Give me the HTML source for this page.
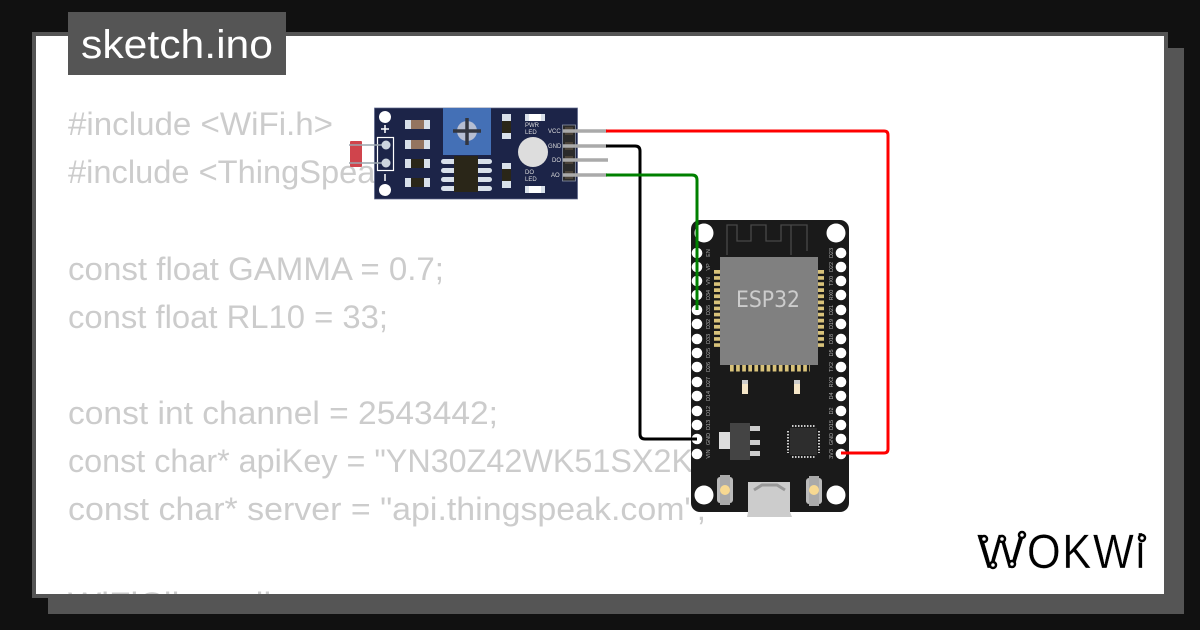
<!DOCTYPE html>
<html><head><meta charset="utf-8"><style>
html,body{margin:0;padding:0;background:#111;width:1200px;height:630px;overflow:hidden}
svg{display:block}
.c{font-family:"Liberation Sans",sans-serif;font-size:32px;fill:#ccc}
.p{font-family:"Liberation Sans",sans-serif;font-size:5.5px;fill:#aaa}
.s{font-family:"Liberation Sans",sans-serif;font-size:6px;fill:#ddd}
.w{font-family:"Liberation Sans",sans-serif;font-size:48px;fill:#000;stroke:#fff;stroke-width:.3px}
</style></head><body>
<svg width="1200" height="630" viewBox="0 0 1200 630" xmlns="http://www.w3.org/2000/svg">
<defs><clipPath id="panel"><rect x="36" y="36" width="1128" height="558"/></clipPath></defs>
<rect width="1200" height="630" fill="#111"/>
<rect x="48" y="48" width="1136" height="566" fill="#555"/>
<rect x="32" y="32" width="1136" height="566" fill="#555"/>
<rect x="36" y="36" width="1128" height="558" fill="#fff"/>
<g clip-path="url(#panel)" class="c">
<text x="68" y="135" textLength="265" lengthAdjust="spacingAndGlyphs">#include &lt;WiFi.h&gt;</text>
<text x="68" y="183" textLength="370" lengthAdjust="spacingAndGlyphs">#include &lt;ThingSpeak.h&gt;</text>
<text x="68" y="280" textLength="376" lengthAdjust="spacingAndGlyphs">const float GAMMA = 0.7;</text>
<text x="68" y="328" textLength="320" lengthAdjust="spacingAndGlyphs">const float RL10 = 33;</text>
<text x="68" y="424" textLength="430" lengthAdjust="spacingAndGlyphs">const int channel = 2543442;</text>
<text x="68" y="472" textLength="625" lengthAdjust="spacingAndGlyphs">const char* apiKey = "YN30Z42WK51SX2K</text>
<text x="68" y="520" textLength="638" lengthAdjust="spacingAndGlyphs">const char* server = "api.thingspeak.com";</text>
<text x="68" y="615" textLength="262" lengthAdjust="spacingAndGlyphs">WiFiClient client;</text>
</g>
<rect x="68" y="12" width="218" height="63" fill="#555"/>
<text x="81" y="58" font-family="Liberation Sans, sans-serif" font-size="40" fill="#fff" textLength="192" lengthAdjust="spacingAndGlyphs">sketch.ino</text>

<!-- sensor -->
<rect x="374.5" y="108" width="203" height="91" fill="#1c2448" stroke="#5a6488" stroke-width="0.7"/>
<rect x="443" y="108" width="48" height="47" fill="#4470b6"/>
<circle cx="467" cy="131" r="10" fill="#b6bed2"/>
<path d="M467 118V145M453 131H481" stroke="#33363f" stroke-width="3.5"/>
<circle cx="385" cy="117" r="6" fill="#fff"/>
<circle cx="385" cy="190" r="6" fill="#fff"/>
<path d="M381 129H389M385 125V133M385 174V181" stroke="#fff" stroke-width="1.5"/>
<rect x="377.5" y="137.5" width="16" height="33" fill="none" stroke="#fff" stroke-width="1.2"/>
<rect x="350" y="141" width="12" height="26" rx="1" fill="#d0444c"/>
<path d="M349 145H386M349 163H386" stroke="#9aa5ad" stroke-width="1.5"/>
<circle cx="386" cy="145" r="4.5" fill="#cdd5de"/>
<circle cx="386" cy="163" r="4.5" fill="#cdd5de"/>
<g>
<rect x="405" y="120" width="25" height="9" fill="#d8e0ea"/><rect x="411" y="120" width="13" height="9" fill="#947460"/>
<rect x="405" y="140" width="25" height="9" fill="#d8e0ea"/><rect x="411" y="140" width="13" height="9" fill="#947460"/>
<rect x="405" y="159" width="25" height="9" fill="#d8e0ea"/><rect x="411" y="159" width="13" height="9" fill="#2a2618"/>
<rect x="405" y="178" width="25" height="9" fill="#d8e0ea"/><rect x="411" y="178" width="13" height="9" fill="#2a2618"/>
</g>
<g fill="#d8e0ea">
<rect x="441" y="159" width="51" height="5" rx="2.5"/>
<rect x="441" y="168" width="51" height="5" rx="2.5"/>
<rect x="441" y="177" width="51" height="5" rx="2.5"/>
<rect x="441" y="186" width="51" height="5" rx="2.5"/>
</g>
<rect x="454" y="156" width="24" height="36" fill="#2a2618"/>
<rect x="502" y="114" width="9" height="25" fill="#d8e0ea"/><rect x="502" y="121" width="9" height="12" fill="#2a2618"/>
<rect x="502" y="163" width="9" height="25" fill="#d8e0ea"/><rect x="502" y="169" width="9" height="12" fill="#2a2618"/>
<rect x="525" y="114" width="20" height="7" fill="#d8e0ea"/><rect x="529" y="114" width="12" height="7" fill="#fff"/>
<rect x="525" y="186" width="20" height="7" fill="#d8e0ea"/><rect x="529" y="186" width="12" height="7" fill="#fff"/>
<circle cx="533" cy="152" r="15" fill="#ddd"/>
<text class="s" x="525" y="127">PWR</text><text class="s" x="525" y="134">LED</text>
<text class="s" x="525" y="174">DO</text><text class="s" x="525" y="181">LED</text>
<text class="s" x="548" y="133">VCC</text><text class="s" x="548" y="148">GND</text><text class="s" x="552" y="162">DO</text><text class="s" x="551" y="177">AO</text>
<rect x="562.5" y="125" width="13" height="56" fill="#2a2a2a" stroke="#8a93a8" stroke-width="0.8"/>
<g fill="#4a4238"><rect x="565" y="127" width="8" height="8"/><rect x="565" y="142" width="8" height="8"/><rect x="565" y="156" width="8" height="8"/><rect x="565" y="171" width="8" height="8"/></g>

<!-- esp32 -->
<rect x="691" y="220" width="158" height="292" rx="9" fill="#1a1a1a"/>
<path d="M727 255V225H737V241H751V225H766V241H781V225H807V251M791 225V255" fill="none" stroke="#484848" stroke-width="1.3"/>
<g fill="#fff">
<circle cx="704" cy="233" r="9.500"/><circle cx="836" cy="233" r="9.500"/><circle cx="704" cy="495" r="9.500"/><circle cx="836" cy="495" r="9.500"/>
<circle cx="697" cy="253" r="5.300"/><circle cx="697" cy="267" r="5.300"/><circle cx="697" cy="281" r="5.300"/><circle cx="697" cy="295" r="5.300"/><circle cx="697" cy="310" r="5.300"/><circle cx="697" cy="324" r="5.300"/><circle cx="697" cy="339" r="5.300"/><circle cx="697" cy="353" r="5.300"/><circle cx="697" cy="367" r="5.300"/><circle cx="697" cy="382" r="5.300"/><circle cx="697" cy="396" r="5.300"/><circle cx="697" cy="411" r="5.300"/><circle cx="697" cy="425" r="5.300"/><circle cx="697" cy="439" r="5.300"/><circle cx="697" cy="454" r="5.300"/>
<circle cx="841" cy="253" r="5.300"/><circle cx="841" cy="267" r="5.300"/><circle cx="841" cy="281" r="5.300"/><circle cx="841" cy="295" r="5.300"/><circle cx="841" cy="310" r="5.300"/><circle cx="841" cy="324" r="5.300"/><circle cx="841" cy="339" r="5.300"/><circle cx="841" cy="353" r="5.300"/><circle cx="841" cy="367" r="5.300"/><circle cx="841" cy="382" r="5.300"/><circle cx="841" cy="396" r="5.300"/><circle cx="841" cy="411" r="5.300"/><circle cx="841" cy="425" r="5.300"/><circle cx="841" cy="439" r="5.300"/><circle cx="841" cy="454" r="5.300"/>
</g>
<path d="M717 270V349M821 270V349" stroke="#d8c27a" stroke-width="6" stroke-dasharray="3.700 2.400"/>
<path d="M730 368H810" stroke="#d8c27a" stroke-width="7" stroke-dasharray="3.700 2.400"/>
<rect x="720" y="257" width="98" height="108" fill="#808080"/>
<text x="736" y="307" font-family="DejaVu Sans, sans-serif" font-size="22" fill="#ccc" textLength="64" lengthAdjust="spacingAndGlyphs">ESP32</text>
<g class="p" text-anchor="middle">
<text transform="translate(710,253) rotate(-90)">EN</text><text transform="translate(710,267) rotate(-90)">VP</text><text transform="translate(710,281) rotate(-90)">VN</text><text transform="translate(710,295) rotate(-90)">D34</text><text transform="translate(710,310) rotate(-90)">D35</text><text transform="translate(710,324) rotate(-90)">D32</text><text transform="translate(710,339) rotate(-90)">D33</text><text transform="translate(710,353) rotate(-90)">D25</text><text transform="translate(710,367) rotate(-90)">D26</text><text transform="translate(710,382) rotate(-90)">D27</text><text transform="translate(710,396) rotate(-90)">D14</text><text transform="translate(710,411) rotate(-90)">D12</text><text transform="translate(710,425) rotate(-90)">D13</text><text transform="translate(710,439) rotate(-90)">GND</text><text transform="translate(710,454) rotate(-90)">VIN</text>
<text transform="translate(833,253) rotate(-90)">D23</text><text transform="translate(833,267) rotate(-90)">D22</text><text transform="translate(833,281) rotate(-90)">TX0</text><text transform="translate(833,295) rotate(-90)">RX0</text><text transform="translate(833,310) rotate(-90)">D21</text><text transform="translate(833,324) rotate(-90)">D19</text><text transform="translate(833,339) rotate(-90)">D18</text><text transform="translate(833,353) rotate(-90)">D5</text><text transform="translate(833,367) rotate(-90)">TX2</text><text transform="translate(833,382) rotate(-90)">RX2</text><text transform="translate(833,396) rotate(-90)">D4</text><text transform="translate(833,411) rotate(-90)">D2</text><text transform="translate(833,425) rotate(-90)">D15</text><text transform="translate(833,439) rotate(-90)">GND</text><text transform="translate(833,454) rotate(-90)">3V3</text>
</g>
<rect x="742" y="380" width="6" height="14" fill="#f5e6c8"/><rect x="742" y="380" width="6" height="4" fill="#ccc"/>
<rect x="794" y="380" width="6" height="14" fill="#f5e6c8"/><rect x="794" y="380" width="6" height="4" fill="#ccc"/>
<rect x="719" y="432" width="11" height="17" fill="#ddd"/>
<rect x="750" y="426" width="10" height="5" fill="#ccc"/><rect x="750" y="440" width="10" height="5" fill="#ccc"/><rect x="750" y="451" width="10" height="5" fill="#ccc"/>
<rect x="730" y="423" width="20" height="37" fill="#444"/>
<path d="M792 426H815M792 457H815" stroke="#ccc" stroke-width="2" stroke-dasharray="1.5 1.5"/>
<path d="M788 431V453M819 431V453" stroke="#ccc" stroke-width="2" stroke-dasharray="1.5 1.5"/>
<rect x="790" y="428" width="27" height="27" fill="#2d2d2d"/>
<rect x="717" y="477" width="16" height="26" rx="3" fill="#bbb"/><rect x="720" y="475" width="10" height="30" fill="#aaa"/><circle cx="725" cy="490" r="5" fill="#f7d992"/>
<rect x="806" y="478" width="16" height="26" rx="3" fill="#bbb"/><rect x="809" y="476" width="10" height="30" fill="#aaa"/><circle cx="814" cy="490" r="5" fill="#f7d992"/>
<path d="M748 482H790V512L792 517H747L748 512Z" fill="#ccc"/>
<path d="M754 490L762 485H777L785 490" fill="none" stroke="#999" stroke-width="3"/>

<!-- pins & wires -->
<path d="M563 131H607M563 146H607M563 160H608M563 175H607" stroke="#aaa" stroke-width="3.5"/>
<path d="M606 131H884Q888 131 888 135V449Q888 453 884 453H841" fill="none" stroke="#f00" stroke-width="3"/>
<path d="M606 146H635Q640 146 640 151V434Q640 439 645 439H697" fill="none" stroke="#000" stroke-width="3"/>
<path d="M606 175H692Q697 175 697 180V310" fill="none" stroke="#008000" stroke-width="3"/>

<!-- wokwi -->
<text class="w" transform="translate(977,568) scale(1.05,1)">W</text>
<text class="w" letter-spacing="2" transform="translate(1027,568) scale(.9,1)">OKWi</text>
<g fill="#fff" stroke="#000" stroke-width="2.500">
<circle cx="984" cy="539" r="3"/><circle cx="1002" cy="539" r="3"/><circle cx="1022" cy="535" r="3"/><circle cx="993" cy="565" r="3"/><circle cx="1012" cy="564" r="3"/><circle cx="1142" cy="538" r="3"/>
</g>
</svg>
</body></html>
